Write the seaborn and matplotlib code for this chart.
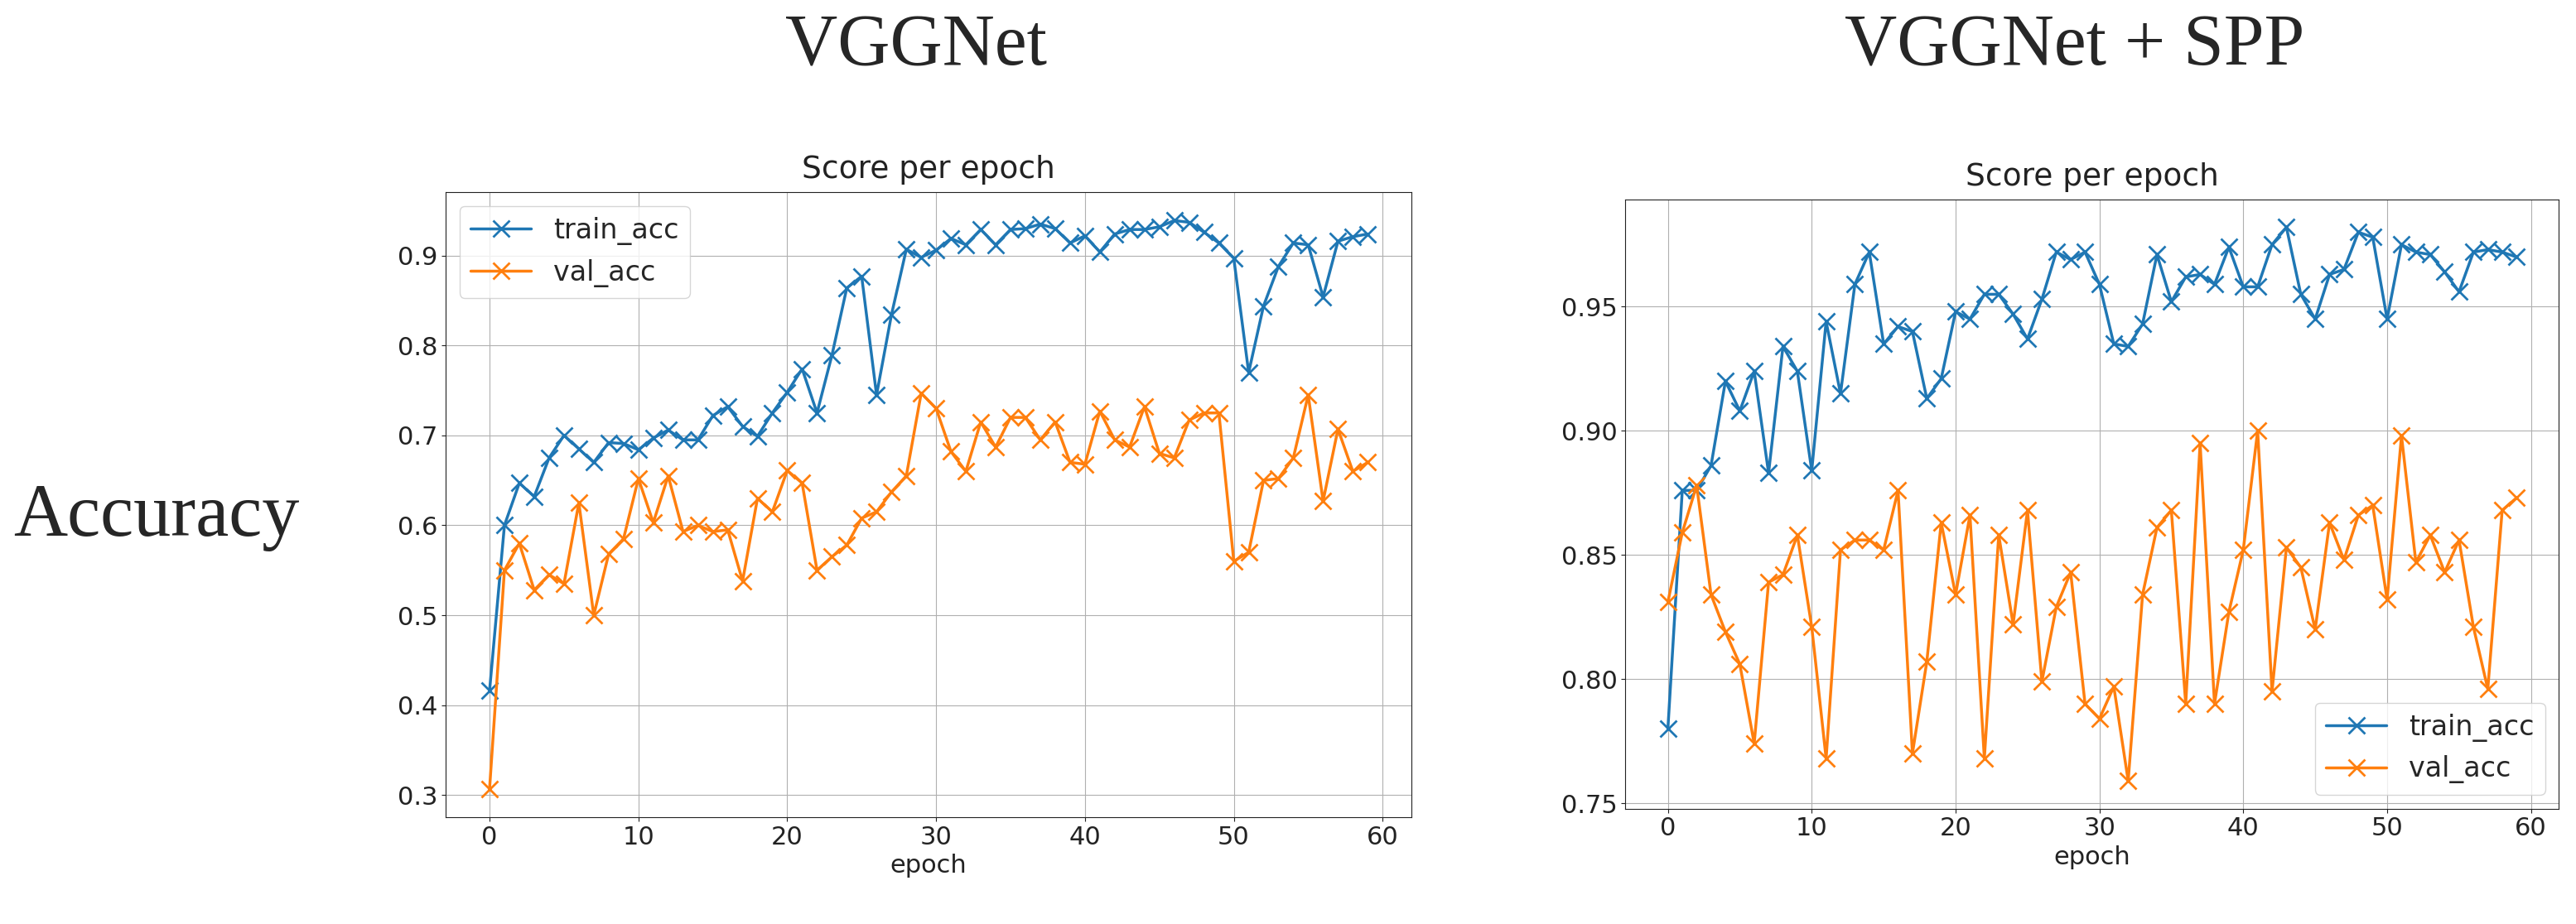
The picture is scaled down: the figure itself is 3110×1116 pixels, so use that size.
import matplotlib.pyplot as plt
import pandas as pd
import seaborn as sns

# Данные
epochs = list(range(60))

vgg_train = [0.416, 0.600, 0.647, 0.632, 0.675, 0.700, 0.685, 0.670, 0.692, 0.691,
             0.684, 0.697, 0.706, 0.695, 0.695, 0.722, 0.732, 0.710, 0.699, 0.725,
             0.748, 0.774, 0.725, 0.789, 0.864, 0.877, 0.745, 0.834, 0.907, 0.898,
             0.906, 0.919, 0.912, 0.929, 0.912, 0.929, 0.930, 0.935, 0.930, 0.914,
             0.922, 0.904, 0.924, 0.929, 0.929, 0.932, 0.939, 0.937, 0.926, 0.914,
             0.897, 0.770, 0.844, 0.888, 0.914, 0.912, 0.854, 0.916, 0.921, 0.924]

vgg_val = [0.307, 0.550, 0.580, 0.528, 0.545, 0.535, 0.625, 0.500, 0.568, 0.585,
           0.652, 0.603, 0.655, 0.593, 0.600, 0.593, 0.595, 0.538, 0.630, 0.615,
           0.661, 0.647, 0.550, 0.565, 0.578, 0.608, 0.615, 0.637, 0.655, 0.747,
           0.730, 0.682, 0.660, 0.715, 0.687, 0.720, 0.720, 0.695, 0.715, 0.670,
           0.668, 0.727, 0.695, 0.687, 0.732, 0.680, 0.675, 0.717, 0.725, 0.725,
           0.560, 0.570, 0.650, 0.652, 0.675, 0.745, 0.627, 0.707, 0.660, 0.670]

spp_train = [0.780, 0.876, 0.876, 0.886, 0.920, 0.908, 0.924, 0.883, 0.934, 0.924,
             0.884, 0.944, 0.915, 0.959, 0.972, 0.935, 0.942, 0.940, 0.913, 0.921,
             0.948, 0.945, 0.955, 0.955, 0.947, 0.937, 0.953, 0.972, 0.969, 0.972,
             0.959, 0.935, 0.934, 0.943, 0.971, 0.952, 0.962, 0.963, 0.959, 0.974,
             0.958, 0.958, 0.975, 0.982, 0.955, 0.945, 0.963, 0.965, 0.980, 0.978,
             0.945, 0.975, 0.972, 0.971, 0.964, 0.956, 0.972, 0.973, 0.972, 0.970]

spp_val = [0.831, 0.859, 0.878, 0.834, 0.819, 0.806, 0.774, 0.839, 0.842, 0.858,
           0.821, 0.768, 0.852, 0.856, 0.856, 0.852, 0.876, 0.770, 0.807, 0.863,
           0.834, 0.866, 0.768, 0.858, 0.822, 0.868, 0.799, 0.829, 0.843, 0.790,
           0.784, 0.797, 0.759, 0.834, 0.861, 0.868, 0.790, 0.895, 0.790, 0.827,
           0.852, 0.900, 0.795, 0.853, 0.845, 0.820, 0.863, 0.848, 0.866, 0.870,
           0.832, 0.898, 0.847, 0.858, 0.843, 0.856, 0.821, 0.796, 0.868, 0.873]

BLUE = "#1f77b4"
ORANGE = "#ff7f0e"

sns.set_style("ticks", rc={
    "axes.grid": True,
    "grid.color": "#b0b0b0",
    "grid.linewidth": 1.6,
    "axes.edgecolor": "#222222",
    "axes.linewidth": 2.0,
    "xtick.color": "#222222",
    "ytick.color": "#222222",
    "xtick.major.size": 7,
    "ytick.major.size": 7,
    "xtick.major.width": 1.8,
    "ytick.major.width": 1.8,
})
plt.rcParams["font.family"] = ["DejaVu Sans"]

fig = plt.figure(figsize=(31.1, 11.16), dpi=100)
ax1 = fig.add_axes([0.173, 0.1156, 0.375, 0.6765])
ax2 = fig.add_axes([0.631, 0.125, 0.3624, 0.659])


def draw(ax, train, val, loc):
    for values, name, color in [(train, "train_acc", BLUE), (val, "val_acc", ORANGE)]:
        sns.lineplot(
            x=epochs, y=values, ax=ax, color=color, label=name,
            marker="x", markersize=14, markeredgewidth=2.0,
            markeredgecolor=color, linewidth=2.5, errorbar=None,
        )
    ax.set_title("Score per epoch", fontsize=27, color="#222222", pad=12)
    ax.set_xlabel("epoch", fontsize=22, color="#222222")
    ax.set_ylabel("")
    ax.set_xticks([0, 10, 20, 30, 40, 50, 60])
    ax.tick_params(labelsize=22)
    ax.legend(loc=loc, fontsize=24, handlelength=2.2, framealpha=0.8)


draw(ax1, vgg_train, vgg_val, "upper left")
draw(ax2, spp_train, spp_val, "lower right")

serif = ["Liberation Serif", "DejaVu Serif"]
fig.text(1106 / 3110, 1 - 78 / 1116, "VGGNet", ha="center", va="baseline",
         fontsize=63, family=serif)
fig.text(2505 / 3110, 1 - 78 / 1116, "VGGNet + SPP", ha="center", va="baseline",
         fontsize=63, family=serif)
fig.text(16 / 3110, 1 - 647 / 1116, "Accuracy", ha="left", va="baseline",
         fontsize=65, family=serif)

plt.savefig("out.png", dpi=100)
plt.close()
